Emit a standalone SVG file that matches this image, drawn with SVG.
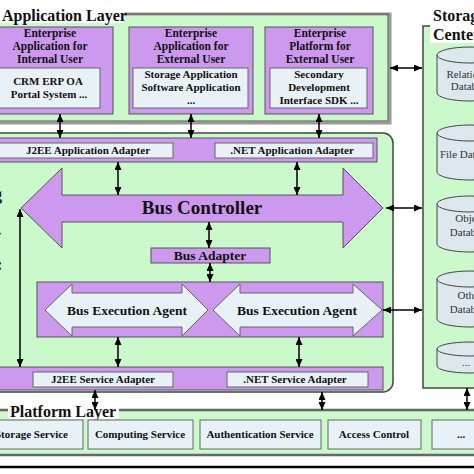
<svg xmlns="http://www.w3.org/2000/svg" width="474" height="474" viewBox="0 0 474 474">
<defs>
<marker id="ah" viewBox="0 0 8 7" refX="8" refY="3.5" markerWidth="8" markerHeight="7" markerUnits="userSpaceOnUse" orient="auto-start-reverse"><path d="M0,0 L8,3.5 L0,7 z" fill="#000"/></marker>
<style>
text{font-family:"Liberation Serif","Times New Roman",serif;fill:#111}
.ttl{font-size:16px;font-weight:bold}
.hd{font-size:11.5px;font-weight:bold;text-anchor:middle}
.in{font-size:11px;font-weight:bold;text-anchor:middle}
.cy{font-size:11px;text-anchor:middle;fill:#333}
.grn{fill:#ccf9cc}
.pur{fill:#cc99ee;stroke:#555;stroke-width:1}
.lt{fill:#e8f1f5;stroke:#666;stroke-width:1}
.cyl{fill:#dde8ee;stroke:#444;stroke-width:1}
.cn line{stroke:#000;stroke-width:1.5;marker-start:url(#ah);marker-end:url(#ah)}
</style>
</defs>
<rect width="474" height="474" fill="#fff"/>

<g id="application-layer">
<rect x="-10" y="14" width="400" height="109" class="grn" stroke="#999" stroke-width="3"/>
<rect x="-10" y="14" width="398" height="107" fill="none" stroke="#555" stroke-width="1"/>
<rect x="0" y="3" width="124" height="20" fill="#fff"/>
<text class="ttl" x="2" y="21">Application Layer</text>
</g>

<g id="app-internal">
<rect x="-14" y="27" width="127" height="87" class="pur"/>
<text class="hd" x="50" y="37">Enterprise</text>
<text class="hd" x="50" y="50">Application for</text>
<text class="hd" x="50" y="63">Internal User</text>
<rect x="-10" y="68" width="110" height="40" class="lt"/>
<text class="in" x="48" y="85">CRM  ERP  OA</text>
<text class="in" x="49" y="98">Portal  System ...</text>
</g>

<g id="app-external">
<rect x="129" y="27" width="124" height="87" class="pur"/>
<text class="hd" x="191" y="37">Enterprise</text>
<text class="hd" x="191" y="50">Application for</text>
<text class="hd" x="191" y="63">External User</text>
<rect x="133" y="68" width="115" height="40" class="lt"/>
<text class="in" x="191" y="78">Storage Application</text>
<text class="in" x="191" y="91">Software Application</text>
<text class="in" x="191" y="104">...</text>
</g>

<g id="platform-external">
<rect x="265" y="27" width="108" height="87" class="pur"/>
<text class="hd" x="320" y="37">Enterprise</text>
<text class="hd" x="320" y="50">Platform for</text>
<text class="hd" x="320" y="63">External User</text>
<rect x="270" y="68" width="97" height="40" class="lt"/>
<text class="in" x="319" y="78">Secondary</text>
<text class="in" x="319" y="91">Development</text>
<text class="in" x="319" y="104">Interface SDK ...</text>
</g>

<g id="bus-layer">
<rect x="-10" y="133" width="403" height="259" rx="10" class="grn" stroke="#444" stroke-width="1.5"/>
<text class="ttl" x="-6" y="200">g</text>
<text class="ttl" x="-4" y="238">-</text>
<text class="ttl" x="-3" y="270">:</text>
</g>

<g id="app-adapters">
<rect x="-5" y="138" width="382" height="24" class="pur"/>
<rect x="-5" y="143" width="178" height="15" class="lt"/>
<text class="in" x="88" y="154">J2EE Application Adapter</text>
<rect x="215" y="143" width="158" height="15" class="lt"/>
<text class="in" x="292" y="154">.NET Application Adapter</text>
</g>

<g id="bus-controller">
<polygon points="21,208 62,168 62,195 343,195 343,168 383,208 343,248 343,222 62,222 62,248" class="pur"/>
<text x="202" y="214" style="font-size:19px;font-weight:bold;text-anchor:middle">Bus Controller</text>
</g>

<g id="bus-adapter">
<rect x="151" y="248" width="119" height="15" class="pur"/>
<text x="210" y="260" style="font-size:13.5px;font-weight:bold;text-anchor:middle">Bus Adapter</text>
</g>

<g id="bus-execution">
<rect x="37" y="282" width="346" height="55" class="pur"/>
<polygon points="45,310 72,284 72,293 182,293 182,284 208,310 182,336 182,327 72,327 72,336" class="lt"/>
<text x="127" y="315" style="font-size:13.5px;font-weight:bold;text-anchor:middle">Bus Execution Agent</text>
<polygon points="213,310 240,284 240,293 353,293 353,284 382,310 353,336 353,327 240,327 240,336" class="lt"/>
<text x="297" y="315" style="font-size:13.5px;font-weight:bold;text-anchor:middle">Bus Execution Agent</text>
</g>

<g id="service-adapters">
<rect x="-5" y="367" width="388" height="23" class="pur"/>
<rect x="33" y="372" width="140" height="15" class="lt"/>
<text class="in" x="103" y="383">J2EE Service Adapter</text>
<rect x="227" y="372" width="141" height="15" class="lt"/>
<text class="in" x="295" y="383">.NET Service Adapter</text>
</g>

<g id="storage-center">
<rect x="423" y="26" width="70" height="362" class="grn" stroke="#444" stroke-width="1.5"/>
<rect x="430" y="3" width="44" height="40" fill="#fff"/>
<text class="ttl" x="433" y="21">Storage</text>
<text class="ttl" x="433" y="40">Center</text>
</g>

<g id="db-relational">
<path d="M437,55 V93 A33,8 0 0 0 503,93 V55" class="cyl"/>
<ellipse cx="470" cy="55" rx="33" ry="8" class="cyl"/>
<text class="cy" x="469" y="78">Relational</text>
<text class="cy" x="471" y="90">Database</text>
</g>
<g id="db-file">
<path d="M437,133 V172 A33,8 0 0 0 503,172 V133" class="cyl"/>
<ellipse cx="470" cy="133" rx="33" ry="8" class="cyl"/>
<text class="cy" x="470" y="158">File Database</text>
</g>
<g id="db-object">
<path d="M437,204 V244 A33,8 0 0 0 503,244 V204" class="cyl"/>
<ellipse cx="470" cy="204" rx="33" ry="8" class="cyl"/>
<text class="cy" x="470" y="222">Object</text>
<text class="cy" x="470" y="236">Database</text>
</g>
<g id="db-other">
<path d="M437,279 V319 A33,8 0 0 0 503,319 V279" class="cyl"/>
<ellipse cx="470" cy="279" rx="33" ry="8" class="cyl"/>
<text class="cy" x="470" y="299">Other</text>
<text class="cy" x="470" y="313">Database</text>
</g>
<g id="db-more">
<path d="M437,349 V366 A33,7 0 0 0 503,366 V349" class="cyl"/>
<ellipse cx="470" cy="349" rx="33" ry="7" class="cyl"/>
<text class="cy" x="466" y="366">...</text>
</g>

<g id="platform-layer">
<rect x="-10" y="410" width="500" height="45" class="grn" stroke="#666" stroke-width="2.5"/>
<rect x="8" y="401" width="111" height="18" fill="#fff"/>
<text x="10" y="417" style="font-size:16px;font-weight:bold">Platform Layer</text>
</g>
<g id="svc-storage">
<rect x="-10" y="420" width="93" height="29" class="lt"/>
<text class="in" x="68" y="438" style="text-anchor:end">Storage Service</text>
</g>
<g id="svc-computing">
<rect x="88" y="420" width="105" height="29" class="lt"/>
<text class="in" x="140" y="438">Computing Service</text>
</g>
<g id="svc-auth">
<rect x="200" y="420" width="121" height="29" class="lt"/>
<text class="in" x="260" y="438">Authentication Service</text>
</g>
<g id="svc-access">
<rect x="328" y="420" width="93" height="29" class="lt"/>
<text class="in" x="374" y="438">Access Control</text>
</g>
<g id="svc-more">
<rect x="432" y="420" width="60" height="29" class="lt"/>
<text class="in" x="461" y="438">...</text>
</g>
<line x1="0" y1="467" x2="474" y2="467" stroke="#000" stroke-width="2.5"/>

<g id="connectors" class="cn">
<line x1="60" y1="114" x2="60" y2="138"/>
<line x1="191" y1="114" x2="191" y2="138"/>
<line x1="319" y1="114" x2="319" y2="138"/>
<line x1="118" y1="162" x2="118" y2="195"/>
<line x1="297" y1="162" x2="297" y2="195"/>
<line x1="209" y1="222" x2="209" y2="248"/>
<line x1="210" y1="263" x2="210" y2="282"/>
<line x1="118" y1="337" x2="118" y2="367"/>
<line x1="299" y1="337" x2="299" y2="367"/>
<line x1="20" y1="209" x2="20" y2="367"/>
<line x1="95" y1="390" x2="95" y2="410"/>
<line x1="322" y1="392" x2="322" y2="410"/>
<line x1="467" y1="388" x2="467" y2="410"/>
<line x1="390" y1="68" x2="422" y2="68"/>
<line x1="386" y1="208" x2="422" y2="208"/>
<line x1="383" y1="310" x2="422" y2="310"/>
</g>
</svg>
